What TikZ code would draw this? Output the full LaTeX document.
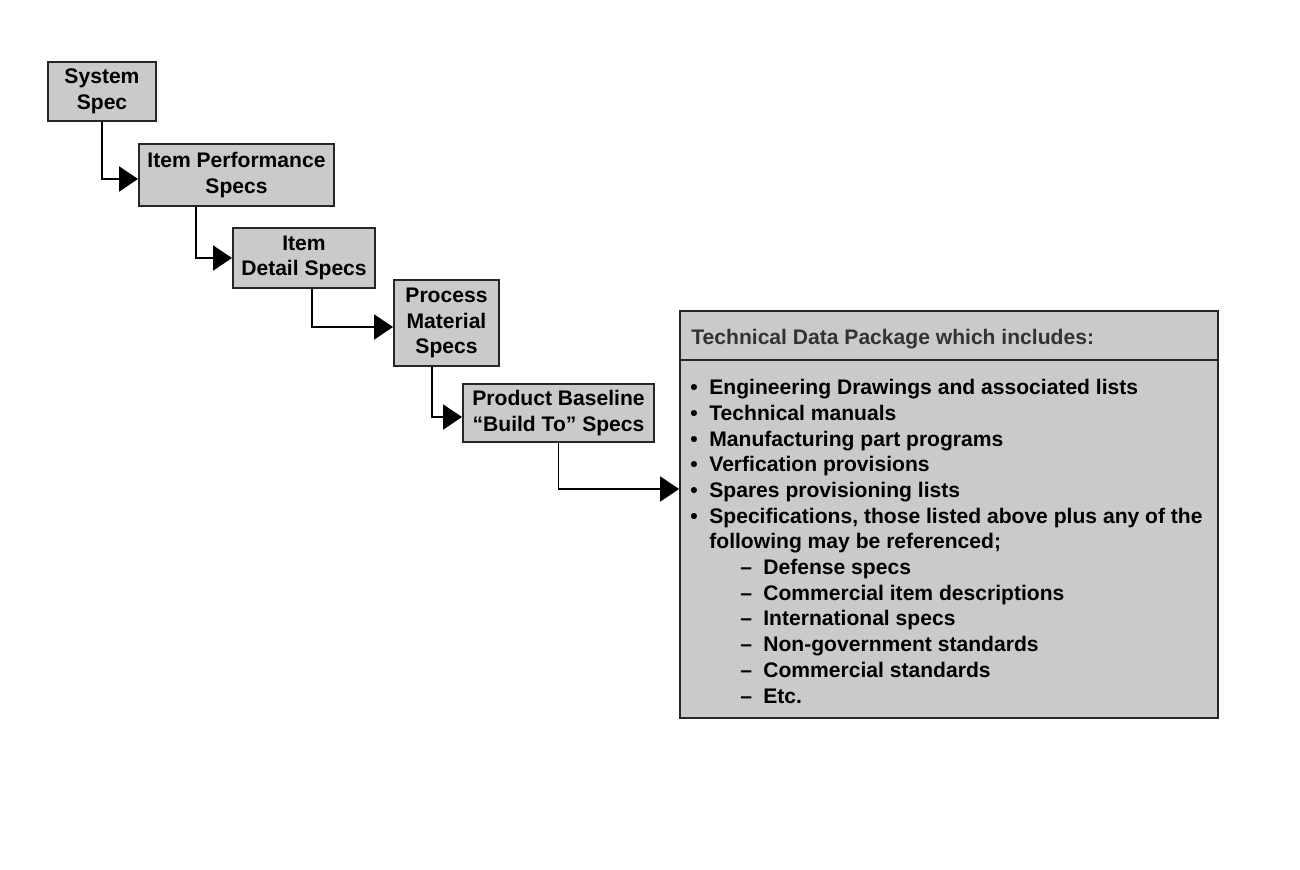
\documentclass[tikz,border=0pt]{standalone}
\usepackage{fontspec}
\setmainfont{Liberation Sans}
\usetikzlibrary{arrows.meta}
\definecolor{specgray}{RGB}{202,202,202}

\begin{document}
\begin{tikzpicture}[x=0.02cm, y=-0.02cm,
      >={Triangle[length=0.38cm, width=0.5cm]},
      spec/.style={draw=black!85, line width=1.1pt, fill=specgray, align=center,
        inner sep=0pt, font=\fontsize{12}{14.7}\selectfont\bfseries},
      conn/.style={->, line width=1.1pt}]

    \useasboundingbox (0,0) rectangle (1300,869);

    \node[spec, minimum width=2.16cm, minimum height=1.18cm] (sys)    at (102,91.5)  {System\\Spec};
    \node[spec, minimum width=3.9cm,  minimum height=1.24cm] (perf)   at (236.5,175) {Item Performance\\Specs};
    \node[spec, minimum width=2.84cm, minimum height=1.2cm]  (detail) at (304,258)   {Item\\Detail Specs};
    \node[spec, minimum width=2.1cm,  minimum height=1.72cm] (proc)   at (446.5,323) {Process\\Material\\Specs};
    \node[spec, minimum width=3.82cm, minimum height=1.16cm] (base)   at (558.5,413) {Product Baseline\\“Build To” Specs};
    \node[spec, minimum width=10.76cm, minimum height=8.14cm] (tdp)   at (949,514.5) {};

    \draw[line width=1.1pt, draw=black!85] ([yshift=-1cm]tdp.north west) -- ([yshift=-1cm]tdp.north east);

    \node[anchor=west, inner sep=0pt, text=black!80, font=\fontsize{12}{14.7}\selectfont\bfseries] (tdptitle) at (691,339)
      {Technical Data Package which includes:};

    \node[anchor=north west, inner sep=0pt, align=left,
          font=\fontsize{12}{14.63}\selectfont\bfseries] (tdplist) at (690,379) {%
      \makebox[0.38cm][l]{•}Engineering Drawings and associated lists\\
      \makebox[0.38cm][l]{•}Technical manuals\\
      \makebox[0.38cm][l]{•}Manufacturing part programs\\
      \makebox[0.38cm][l]{•}Verfication provisions\\
      \makebox[0.38cm][l]{•}Spares provisioning lists\\
      \makebox[0.38cm][l]{•}Specifications, those listed above plus any of the\\
      \hspace*{0.38cm}following may be referenced;\\
      \hspace*{1cm}\makebox[0.46cm][l]{–}Defense specs\\
      \hspace*{1cm}\makebox[0.46cm][l]{–}Commercial item descriptions\\
      \hspace*{1cm}\makebox[0.46cm][l]{–}International specs\\
      \hspace*{1cm}\makebox[0.46cm][l]{–}Non-government standards\\
      \hspace*{1cm}\makebox[0.46cm][l]{–}Commercial standards\\
      \hspace*{1cm}\makebox[0.46cm][l]{–}Etc.};

    \draw[conn] (sys.south) |- ([yshift=-0.08cm]perf.west);
    \draw[conn] ([xshift=-0.81cm]perf.south) |- (detail);
    \draw[conn] ([xshift=0.16cm]detail.south) |- ([yshift=-0.08cm]proc.west);
    \draw[conn] ([xshift=-0.29cm]proc.south) |- ([yshift=-0.08cm]base.west);
    \draw[conn] (base.south) |- ([yshift=0.51cm]tdp.west);
\end{tikzpicture}
\end{document}
